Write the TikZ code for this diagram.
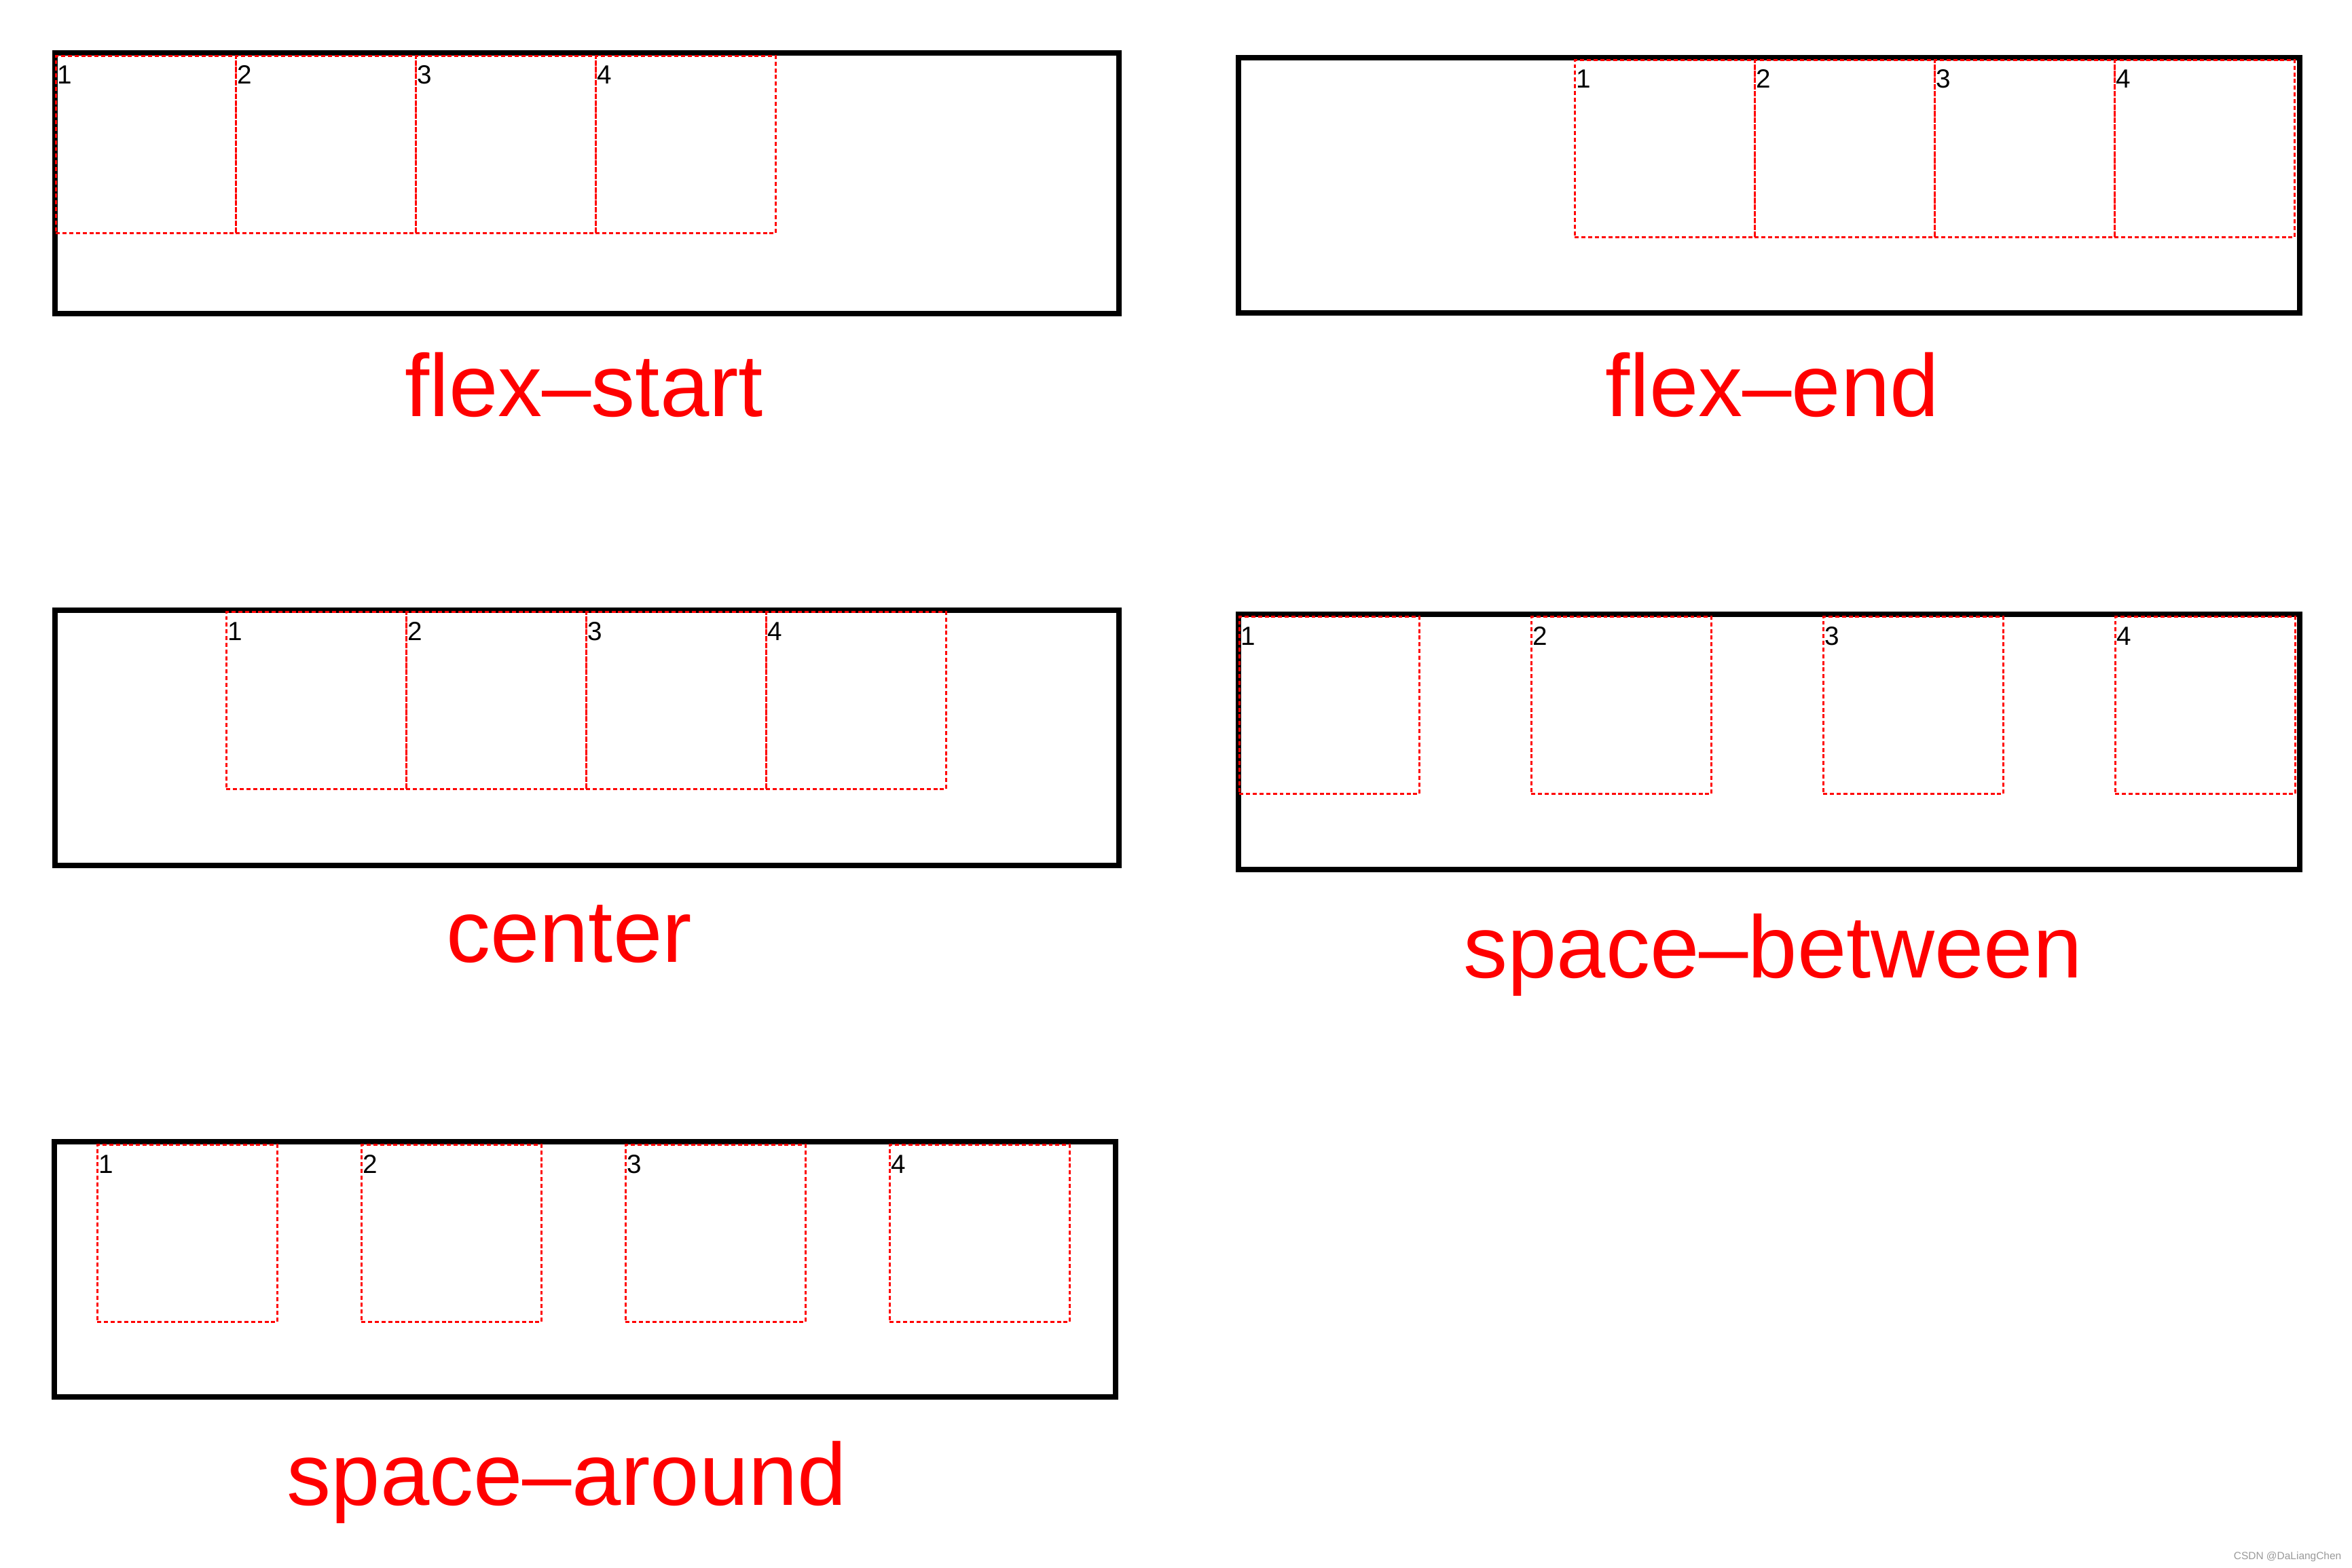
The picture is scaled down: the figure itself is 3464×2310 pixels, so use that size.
\documentclass[tikz,border=0pt]{standalone}
\usepackage{fontspec}
\setmainfont{Liberation Sans}
\usetikzlibrary{positioning}

\begin{document}
\begin{tikzpicture}[
x=0.01cm,
y=-0.01cm,
flexbox/.style={
  draw,
  line width=2.2pt,
  inner sep=0pt,
  anchor=north west,
  minimum width=15.62cm,
  minimum height=3.76cm
  },
flexitem/.style={
  draw=red,
  line width=0.8pt,
  dash pattern=on 1.7pt off 1.1pt,
  inner sep=0pt,
  anchor=north west,
  minimum width=2.65cm,
  minimum height=2.61cm
  },
itemnum/.style={
  anchor=base west,
  inner sep=0pt,
  font=\fontsize{11}{13}\selectfont
  },
caption/.style={
  anchor=base,
  inner sep=0pt,
  text=red,
  font=\fontsize{37}{40}\selectfont
  }
]
\useasboundingbox (0,0) rectangle (3464,2310);

% flex-start
\node[flexbox, minimum width=15.66cm, minimum height=3.84cm] (start) at (77,74) {};
\foreach \i in {1,...,4}
{
  \node[flexitem] (start-\i) at ({81+265*(\i-1)},81) {};
  \node[itemnum] (start-n\i) at ([shift={(3,43)}]start-\i.north west) {\i};
}
\node[caption] (start-cap) at (860,614) {flex–start};

% flex-end
\node[flexbox] (end) at (1820,81) {};
\foreach \i in {1,...,4}
{
  \node[flexitem] (end-\i) at ({2318+265*(\i-1)},87) {};
  \node[itemnum] (end-n\i) at ([shift={(3,43)}]end-\i.north west) {\i};
}
\node[caption] (end-cap) at (2610,614) {flex–end};

% center
\node[flexbox, minimum width=15.66cm] (center) at (77,895) {};
\foreach \i in {1,...,4}
{
  \node[flexitem] (center-\i) at ({332+265*(\i-1)},900) {};
  \node[itemnum] (center-n\i) at ([shift={(3,43)}]center-\i.north west) {\i};
}
\node[caption] (center-cap) at (838,1417) {center};

% space-between
\node[flexbox] (between) at (1820,901) {};
\foreach \i in {1,...,4}
{
  \node[flexitem] (between-\i) at ({1824+430*(\i-1)},907) {};
  \node[itemnum] (between-n\i) at ([shift={(3,43)}]between-\i.north west) {\i};
}
\node[caption] (between-cap) at (2611,1440) {space–between};

% space-around
\node[flexbox] (around) at (76,1678) {};
\foreach \i in {1,...,4}
{
  \node[flexitem] (around-\i) at ({142+389*(\i-1)},1685) {};
  \node[itemnum] (around-n\i) at ([shift={(3,43)}]around-\i.north west) {\i};
}
\node[caption] (around-cap) at (835,2217) {space–around};

\node[anchor=base east, inner sep=0pt, text=gray!80,
  font=\fontsize{4.4}{5}\selectfont] (mark) at (3449,2297) {CSDN @DaLiangChen};
\end{tikzpicture}
\end{document}
